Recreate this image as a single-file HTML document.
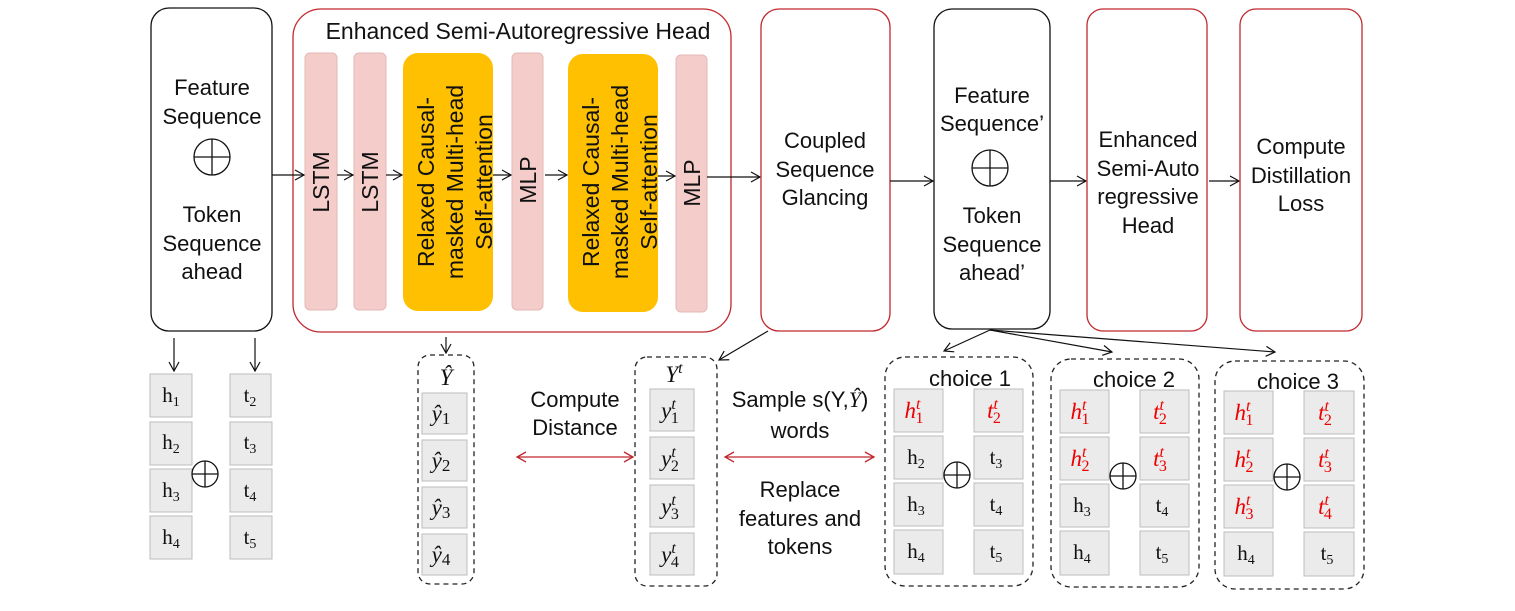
<!DOCTYPE html>
<html><head><meta charset="utf-8"><style>
html,body{margin:0;padding:0;background:#fff;}
svg{display:block;}
.s{font-family:"Liberation Sans",sans-serif;font-size:22px;fill:#111;text-anchor:middle;}
.v{font-family:"Liberation Sans",sans-serif;font-size:23px;fill:#111;text-anchor:middle;}
.c{font-family:"Liberation Serif",serif;font-size:21px;fill:#111;text-anchor:middle;}
.m{font-family:"Liberation Serif",serif;font-style:italic;font-size:23px;fill:#111;text-anchor:middle;}
.r{fill:#e00;}
.cell{fill:#ebebeb;stroke:#bdbdbd;stroke-width:1;}
.ar{stroke:#111;stroke-width:1.2;fill:none;}
.red{stroke:#c0282d;stroke-width:1.3;fill:#fff;}
.blk{stroke:#111;stroke-width:1.3;fill:#fff;}
.dash{stroke:#222;stroke-width:1.3;fill:none;stroke-dasharray:5,4;}
</style></head><body>
<svg width="1515" height="611" viewBox="0 0 1515 611" xmlns="http://www.w3.org/2000/svg">
<defs>
<marker id="a" markerWidth="12" markerHeight="12" refX="10" refY="6" orient="auto" markerUnits="userSpaceOnUse"><path d="M1,1 L10,6 L1,11" fill="none" stroke="#111" stroke-width="1.2"/></marker>
<marker id="ra" markerWidth="12" markerHeight="12" refX="10" refY="6" orient="auto-start-reverse" markerUnits="userSpaceOnUse"><path d="M1,1 L10,6 L1,11" fill="none" stroke="#c0282d" stroke-width="1.3"/></marker>
<g id="op"><circle cx="0" cy="0" r="13" fill="#fff" stroke="#111" stroke-width="1.3"/><path d="M-13,0H13M0,-13V13" stroke="#111" stroke-width="1.3"/></g>
<g id="opb"><circle cx="0" cy="0" r="18" fill="#fff" stroke="#111" stroke-width="1.3"/><path d="M-18,0H18M0,-18V18" stroke="#111" stroke-width="1.3"/></g>
</defs>

<rect x="151" y="8" width="121" height="323" rx="18" class="blk"/>
<text class="s" x="212" y="95">Feature</text>
<text class="s" x="212" y="124">Sequence</text>
<use href="#opb" x="212" y="157"/>
<text class="s" x="212" y="222">Token</text>
<text class="s" x="212" y="251">Sequence</text>
<text class="s" x="212" y="279">ahead</text>

<rect x="293" y="9" width="438" height="323" rx="28" class="red"/>
<text class="s" x="518" y="39" style="font-size:23px">Enhanced Semi-Autoregressive Head</text>
<rect x="305" y="53" width="32" height="257" rx="5" fill="#f4cdcb" stroke="#e3b8b6"/>
<rect x="354" y="53" width="32" height="257" rx="5" fill="#f4cdcb" stroke="#e3b8b6"/>
<rect x="403" y="53" width="90" height="258" rx="15" fill="#fec000"/>
<rect x="512" y="53" width="31" height="257" rx="5" fill="#f4cdcb" stroke="#e3b8b6"/>
<rect x="568" y="54" width="90" height="258" rx="15" fill="#fec000"/>
<rect x="676" y="55" width="31" height="257" rx="5" fill="#f4cdcb" stroke="#e3b8b6"/>
<text class="v" transform="translate(329,182) rotate(-90)">LSTM</text>
<text class="v" transform="translate(378,182) rotate(-90)">LSTM</text>
<text class="v" transform="translate(434,182) rotate(-90)">Relaxed Causal-</text>
<text class="v" transform="translate(463,182) rotate(-90)">masked Multi-head</text>
<text class="v" transform="translate(492,182) rotate(-90)">Self-attention</text>
<text class="v" transform="translate(536,180) rotate(-90)">MLP</text>
<text class="v" transform="translate(599,182) rotate(-90)">Relaxed Causal-</text>
<text class="v" transform="translate(628,182) rotate(-90)">masked Multi-head</text>
<text class="v" transform="translate(657,182) rotate(-90)">Self-attention</text>
<text class="v" transform="translate(700,183) rotate(-90)">MLP</text>

<line x1="272" y1="175" x2="304" y2="175" class="ar" marker-end="url(#a)"/>
<line x1="337" y1="175" x2="353" y2="175" class="ar" marker-end="url(#a)"/>
<line x1="386" y1="175" x2="402" y2="175" class="ar" marker-end="url(#a)"/>
<line x1="493" y1="175" x2="511" y2="175" class="ar" marker-end="url(#a)"/>
<line x1="545" y1="175" x2="567" y2="175" class="ar" marker-end="url(#a)"/>
<line x1="658" y1="176" x2="675" y2="176" class="ar" marker-end="url(#a)"/>
<line x1="707" y1="177" x2="760" y2="177" class="ar" marker-end="url(#a)"/>

<rect x="761" y="9" width="129" height="322" rx="18" class="red"/>
<text class="s" x="825" y="148">Coupled</text>
<text class="s" x="825" y="177">Sequence</text>
<text class="s" x="825" y="205">Glancing</text>

<line x1="890" y1="181" x2="933" y2="181" class="ar" marker-end="url(#a)"/>
<rect x="934" y="9" width="116" height="320" rx="18" class="blk"/>
<text class="s" x="992" y="103">Feature</text>
<text class="s" x="992" y="131">Sequence’</text>
<use href="#opb" x="990" y="168"/>
<text class="s" x="992" y="223">Token</text>
<text class="s" x="992" y="252">Sequence</text>
<text class="s" x="992" y="280">ahead’</text>

<line x1="1050" y1="181" x2="1086" y2="181" class="ar" marker-end="url(#a)"/>
<rect x="1087" y="9" width="120" height="322" rx="16" class="red"/>
<text class="s" x="1148" y="147">Enhanced</text>
<text class="s" x="1148" y="176">Semi-Auto</text>
<text class="s" x="1148" y="204">regressive</text>
<text class="s" x="1148" y="233">Head</text>
<line x1="1209" y1="181" x2="1239" y2="181" class="ar" marker-end="url(#a)"/>
<rect x="1240" y="9" width="122" height="322" rx="16" class="red"/>
<text class="s" x="1301" y="154">Compute</text>
<text class="s" x="1301" y="183">Distillation</text>
<text class="s" x="1301" y="211">Loss</text>

<line x1="174" y1="338" x2="174" y2="371" class="ar" marker-end="url(#a)"/>
<line x1="255" y1="338" x2="255" y2="371" class="ar" marker-end="url(#a)"/>
<rect class="cell" x="150" y="374" width="42" height="43"/><text class="c" x="171" y="402">h<tspan font-size="14" dy="4">1</tspan></text>
<rect class="cell" x="150" y="422" width="42" height="43"/><text class="c" x="171" y="449">h<tspan font-size="14" dy="4">2</tspan></text>
<rect class="cell" x="150" y="469" width="42" height="43"/><text class="c" x="171" y="497">h<tspan font-size="14" dy="4">3</tspan></text>
<rect class="cell" x="150" y="516" width="42" height="43"/><text class="c" x="171" y="544">h<tspan font-size="14" dy="4">4</tspan></text>
<rect class="cell" x="230" y="374" width="41" height="43"/><text class="c" x="250" y="402">t<tspan font-size="14" dy="4">2</tspan></text>
<rect class="cell" x="230" y="422" width="42" height="43"/><text class="c" x="250" y="449">t<tspan font-size="14" dy="4">3</tspan></text>
<rect class="cell" x="230" y="469" width="42" height="43"/><text class="c" x="250" y="497">t<tspan font-size="14" dy="4">4</tspan></text>
<rect class="cell" x="230" y="516" width="42" height="43"/><text class="c" x="250" y="544">t<tspan font-size="14" dy="4">5</tspan></text>
<use href="#op" x="205" y="474"/>

<line x1="446" y1="337" x2="446" y2="353" class="ar" marker-end="url(#a)"/>
<rect x="418" y="355" width="56" height="229" rx="12" class="dash"/>
<text class="m" x="446" y="385">Ŷ</text>
<rect class="cell" x="422" y="393" width="45" height="41"/><text class="m" x="441" y="421">ŷ<tspan font-style="normal" font-size="17" dy="3">1</tspan></text>
<rect class="cell" x="422" y="440" width="45" height="41"/><text class="m" x="441" y="468">ŷ<tspan font-style="normal" font-size="17" dy="3">2</tspan></text>
<rect class="cell" x="422" y="487" width="45" height="41"/><text class="m" x="441" y="515">ŷ<tspan font-style="normal" font-size="17" dy="3">3</tspan></text>
<rect class="cell" x="422" y="534" width="45" height="41"/><text class="m" x="441" y="562">ŷ<tspan font-style="normal" font-size="17" dy="3">4</tspan></text>

<text class="s" x="575" y="407">Compute</text>
<text class="s" x="575" y="435">Distance</text>
<line x1="517" y1="457" x2="633" y2="457" stroke="#c0282d" stroke-width="1.3" marker-start="url(#ra)" marker-end="url(#ra)"/>

<line x1="768" y1="331" x2="719" y2="360" class="ar" marker-end="url(#a)"/>
<rect x="635" y="357" width="82" height="229" rx="12" class="dash"/>
<text class="m" x="674" y="382">Y<tspan font-size="16" dy="-9">t</tspan></text>
<rect class="cell" x="650" y="389" width="44" height="42"/><text class="m" x="670" y="418">y<tspan font-size="16" dy="-9">t</tspan><tspan font-style="normal" font-size="16" dx="-5" dy="14">1</tspan></text>
<rect class="cell" x="650" y="437" width="44" height="42"/><text class="m" x="670" y="466">y<tspan font-size="16" dy="-9">t</tspan><tspan font-style="normal" font-size="16" dx="-5" dy="14">2</tspan></text>
<rect class="cell" x="650" y="485" width="44" height="42"/><text class="m" x="670" y="514">y<tspan font-size="16" dy="-9">t</tspan><tspan font-style="normal" font-size="16" dx="-5" dy="14">3</tspan></text>
<rect class="cell" x="650" y="533" width="44" height="42"/><text class="m" x="670" y="562">y<tspan font-size="16" dy="-9">t</tspan><tspan font-style="normal" font-size="16" dx="-5" dy="14">4</tspan></text>

<text class="s" x="800" y="407">Sample s(Y,<tspan font-family="Liberation Serif" font-style="italic">Ŷ</tspan>)</text>
<text class="s" x="800" y="438">words</text>
<line x1="725" y1="457" x2="874" y2="457" stroke="#c0282d" stroke-width="1.3" marker-start="url(#ra)" marker-end="url(#ra)"/>
<text class="s" x="800" y="497">Replace</text>
<text class="s" x="800" y="526">features and</text>
<text class="s" x="800" y="554">tokens</text>

<line x1="990" y1="330" x2="944" y2="351" class="ar" marker-end="url(#a)"/>
<line x1="990" y1="330" x2="1112" y2="352" class="ar" marker-end="url(#a)"/>
<line x1="990" y1="330" x2="1275" y2="352" class="ar" marker-end="url(#a)"/>

<rect x="885" y="357" width="148" height="229" rx="20" class="dash"/>
<text class="s" x="970" y="386">choice 1</text>
<rect class="cell" x="894" y="389" width="49" height="43"/><text class="m r" x="914" y="418">h<tspan font-size="16" dy="-9">t</tspan><tspan font-style="normal" font-size="16" dx="-5" dy="14">1</tspan></text>
<rect class="cell" x="974" y="389" width="49" height="43"/><text class="m r" x="994" y="418">t<tspan font-size="16" dy="-9">t</tspan><tspan font-style="normal" font-size="16" dx="-5" dy="14">2</tspan></text>
<rect class="cell" x="894" y="436" width="49" height="43"/><text class="c" x="916" y="464">h<tspan font-size="14" dy="4">2</tspan></text>
<rect class="cell" x="974" y="436" width="49" height="43"/><text class="c" x="996" y="464">t<tspan font-size="14" dy="4">3</tspan></text>
<rect class="cell" x="894" y="483" width="49" height="43"/><text class="c" x="916" y="511">h<tspan font-size="14" dy="4">3</tspan></text>
<rect class="cell" x="974" y="483" width="49" height="43"/><text class="c" x="996" y="511">t<tspan font-size="14" dy="4">4</tspan></text>
<rect class="cell" x="894" y="530" width="49" height="44"/><text class="c" x="916" y="558">h<tspan font-size="14" dy="4">4</tspan></text>
<rect class="cell" x="974" y="530" width="49" height="44"/><text class="c" x="996" y="558">t<tspan font-size="14" dy="4">5</tspan></text>
<use href="#op" x="957" y="475"/>

<rect x="1051" y="359" width="148" height="228" rx="20" class="dash"/>
<text class="s" x="1134" y="387">choice 2</text>
<rect class="cell" x="1060" y="390" width="49" height="43"/><text class="m r" x="1080" y="419">h<tspan font-size="16" dy="-9">t</tspan><tspan font-style="normal" font-size="16" dx="-5" dy="14">1</tspan></text>
<rect class="cell" x="1140" y="390" width="49" height="43"/><text class="m r" x="1160" y="419">t<tspan font-size="16" dy="-9">t</tspan><tspan font-style="normal" font-size="16" dx="-5" dy="14">2</tspan></text>
<rect class="cell" x="1060" y="437" width="49" height="43"/><text class="m r" x="1080" y="466">h<tspan font-size="16" dy="-9">t</tspan><tspan font-style="normal" font-size="16" dx="-5" dy="14">2</tspan></text>
<rect class="cell" x="1140" y="437" width="49" height="43"/><text class="m r" x="1160" y="466">t<tspan font-size="16" dy="-9">t</tspan><tspan font-style="normal" font-size="16" dx="-5" dy="14">3</tspan></text>
<rect class="cell" x="1060" y="484" width="49" height="43"/><text class="c" x="1082" y="512">h<tspan font-size="14" dy="4">3</tspan></text>
<rect class="cell" x="1140" y="484" width="49" height="43"/><text class="c" x="1162" y="512">t<tspan font-size="14" dy="4">4</tspan></text>
<rect class="cell" x="1060" y="531" width="49" height="44"/><text class="c" x="1082" y="559">h<tspan font-size="14" dy="4">4</tspan></text>
<rect class="cell" x="1140" y="531" width="49" height="44"/><text class="c" x="1162" y="559">t<tspan font-size="14" dy="4">5</tspan></text>
<use href="#op" x="1123" y="476"/>

<rect x="1215" y="361" width="149" height="228" rx="20" class="dash"/>
<text class="s" x="1298" y="389">choice 3</text>
<rect class="cell" x="1224" y="391" width="49" height="43"/><text class="m r" x="1244" y="420">h<tspan font-size="16" dy="-9">t</tspan><tspan font-style="normal" font-size="16" dx="-5" dy="14">1</tspan></text>
<rect class="cell" x="1304" y="391" width="50" height="43"/><text class="m r" x="1325" y="420">t<tspan font-size="16" dy="-9">t</tspan><tspan font-style="normal" font-size="16" dx="-5" dy="14">2</tspan></text>
<rect class="cell" x="1224" y="438" width="49" height="43"/><text class="m r" x="1244" y="467">h<tspan font-size="16" dy="-9">t</tspan><tspan font-style="normal" font-size="16" dx="-5" dy="14">2</tspan></text>
<rect class="cell" x="1304" y="438" width="50" height="43"/><text class="m r" x="1325" y="467">t<tspan font-size="16" dy="-9">t</tspan><tspan font-style="normal" font-size="16" dx="-5" dy="14">3</tspan></text>
<rect class="cell" x="1224" y="485" width="49" height="43"/><text class="m r" x="1244" y="514">h<tspan font-size="16" dy="-9">t</tspan><tspan font-style="normal" font-size="16" dx="-5" dy="14">3</tspan></text>
<rect class="cell" x="1304" y="485" width="50" height="43"/><text class="m r" x="1325" y="514">t<tspan font-size="16" dy="-9">t</tspan><tspan font-style="normal" font-size="16" dx="-5" dy="14">4</tspan></text>
<rect class="cell" x="1224" y="532" width="49" height="44"/><text class="c" x="1246" y="560">h<tspan font-size="14" dy="4">4</tspan></text>
<rect class="cell" x="1304" y="532" width="50" height="44"/><text class="c" x="1327" y="560">t<tspan font-size="14" dy="4">5</tspan></text>
<use href="#op" x="1287" y="477"/>
</svg>
</body></html>
